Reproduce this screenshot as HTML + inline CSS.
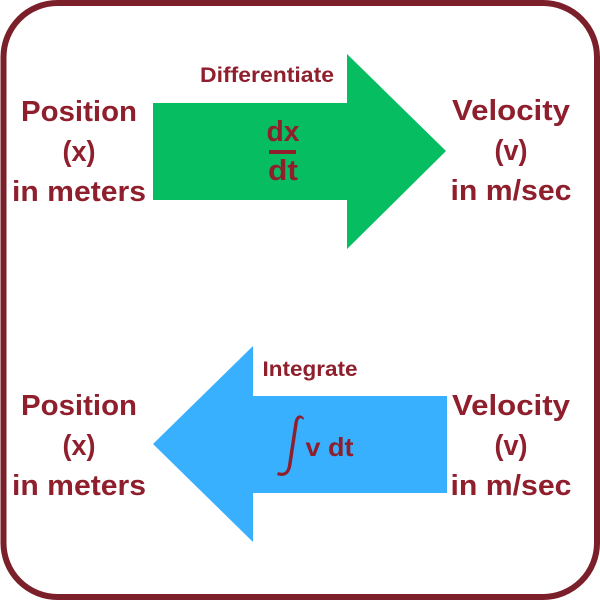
<!DOCTYPE html>
<html><head><meta charset="utf-8"><style>
html,body{margin:0;padding:0;background:#fff}
svg{display:block}
text{font-family:"Liberation Sans",sans-serif;font-weight:bold;fill:#8f1f2c}
</style></head><body>
<svg width="600" height="600" viewBox="0 0 600 600" xmlns="http://www.w3.org/2000/svg">
<rect width="600" height="600" fill="#fff"/>
<rect x="3.5" y="3" width="593.5" height="594" rx="54" ry="54" fill="#fff" stroke="#7b1f2a" stroke-width="6"/>
<polygon points="153,103 347,103 347,54 446,151 347,249 347,200 153,200" fill="#06bd62"/>
<polygon points="153,444 253,346 253,396 447,396 447,493 253,493 253,542" fill="#38b0fe"/>
<g font-size="28.5" text-anchor="middle">
<text x="79" y="121" textLength="116" lengthAdjust="spacingAndGlyphs">Position</text>
<text x="79" y="161" textLength="33" lengthAdjust="spacingAndGlyphs">(x)</text>
<text x="79" y="201" textLength="134" lengthAdjust="spacingAndGlyphs">in meters</text>
<text x="511" y="120" textLength="118" lengthAdjust="spacingAndGlyphs">Velocity</text>
<text x="511" y="160" textLength="33" lengthAdjust="spacingAndGlyphs">(v)</text>
<text x="511" y="200" textLength="121" lengthAdjust="spacingAndGlyphs">in m/sec</text>
<text x="79" y="415" textLength="116" lengthAdjust="spacingAndGlyphs">Position</text>
<text x="79" y="455" textLength="33" lengthAdjust="spacingAndGlyphs">(x)</text>
<text x="79" y="495" textLength="134" lengthAdjust="spacingAndGlyphs">in meters</text>
<text x="511" y="415" textLength="118" lengthAdjust="spacingAndGlyphs">Velocity</text>
<text x="511" y="455" textLength="33" lengthAdjust="spacingAndGlyphs">(v)</text>
<text x="511" y="495" textLength="121" lengthAdjust="spacingAndGlyphs">in m/sec</text>
</g>
<text x="267" y="82" font-size="21" text-anchor="middle" textLength="134" lengthAdjust="spacingAndGlyphs">Differentiate</text>
<text x="310" y="376" font-size="21" text-anchor="middle" textLength="95" lengthAdjust="spacingAndGlyphs">Integrate</text>
<text x="283" y="141" font-size="29" text-anchor="middle" textLength="33" lengthAdjust="spacingAndGlyphs">dx</text>
<rect x="269" y="150" width="27" height="4" fill="#8f1f2c"/>
<text x="283" y="180" font-size="29" text-anchor="middle" textLength="30" lengthAdjust="spacingAndGlyphs">dt</text>
<path d="M304,418 C300,413 295,415 294,425 L288,465 C287,472 284,474 278,472 L277,475 C285,478 290,474 291.5,465 L297.5,425 C298,419 300,416 303.5,420 Z" fill="#8f1f2c"/>
<text x="329.5" y="456" font-size="26" text-anchor="middle" textLength="48" lengthAdjust="spacingAndGlyphs">v dt</text>
</svg>
</body></html>
